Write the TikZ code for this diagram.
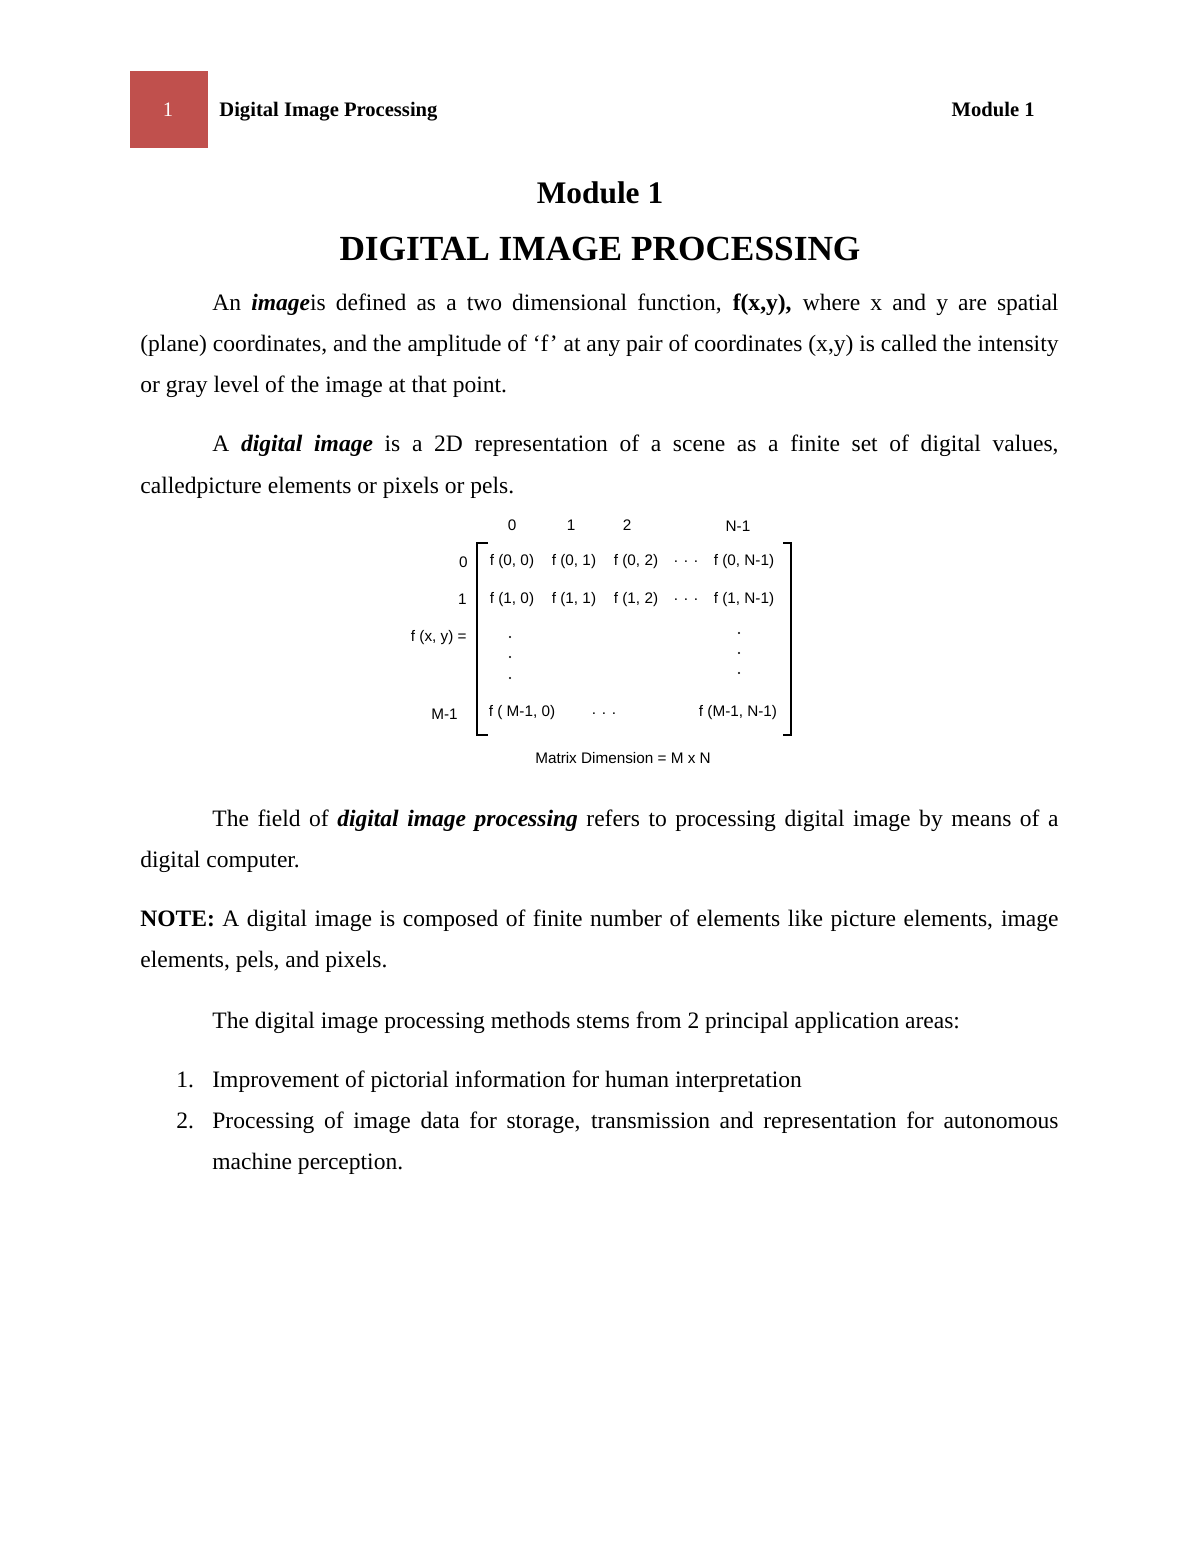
\documentclass[tikz,border=0pt]{standalone}
\usepackage{fontspec}
\setmainfont{Liberation Serif}
\setsansfont{Liberation Sans}
\begin{document}
\begin{tikzpicture}[x=0.51pt,y=-0.51pt,
 body/.style={anchor=base west,inner sep=0pt,font=\fontsize{12}{14}\selectfont},
 mt/.style={inner sep=0pt,font=\sffamily\fontsize{7.8}{9}\selectfont},
 hd/.style={inner sep=0pt,font=\bfseries\fontsize{10.5}{12}\selectfont}]
\useasboundingbox (0,0) rectangle (1200,1553);
\fill[white] (0,0) rectangle (1200,1553);
\definecolor{hred}{HTML}{C0504D}
\fill[hred] (130,71) rectangle (208,148);
\node[inner sep=0pt,text=white,font=\fontsize{10.5}{12}\selectfont] (pg) at (168,110) {1};
\node[hd,anchor=base west] (h1) at (219,117) {Digital Image Processing};
\node[hd,anchor=base east] (h2) at (1035,117) {Module 1};
\node[inner sep=0pt,font=\bfseries\fontsize{16}{18}\selectfont] (t1) at (600,193) {Module 1};
\node[inner sep=0pt,font=\bfseries\fontsize{18}{20}\selectfont] (t2) at (600,249) {DIGITAL IMAGE PROCESSING};
\def\W{\makebox[431.5pt][s]}
\def\WF{\makebox[468.2pt][s]}
\node[body] (p1a) at (212,310) {\W{An \textbf{\textit{image}}is defined as a two dimensional function, \textbf{f(x,y),} where x and y are spatial}};
\node[body] (p1b) at (140,351) {\WF{(plane) coordinates, and the amplitude of ‘f’ at any pair of coordinates (x,y) is called the intensity}};
\node[body] (p1c) at (140,392) {or gray level of the image at that point.};
\node[body] (p2a) at (212,451) {\W{A \textbf{\textit{digital image}} is a 2D representation of a scene as a finite set of digital values,}};
\node[body] (p2b) at (140,493) {calledpicture elements or pixels or pels.};
% matrix
\node[mt] (c0) at (512,525) {0};
\node[mt] (c1) at (571,525) {1};
\node[mt] (c2) at (627,525) {2};
\node[mt] (cn) at (738,526) {N-1};
\node[mt,anchor=east] (r0) at (468,562) {0};
\node[mt,anchor=east] (r1) at (467,599) {1};
\node[mt,anchor=east] (rf) at (467,638) {f (x, y) =};
\node[mt,anchor=east] (rm) at (458,714) {M-1};
\draw[line width=1.3pt] (488,543) -- (477,543) -- (477,735) -- (488,735);
\draw[line width=1.3pt] (783,543) -- (791,543) -- (791,735) -- (783,735);
\foreach \r/\y in {0/562,1/600}{
 \node[mt] at (512,\y) {f (\r, 0)};
 \node[mt] at (574,\y) {f (\r, 1)};
 \node[mt] at (636,\y) {f (\r, 2)};
 \node[mt] at (686,\y) {. . .};
 \node[mt] at (744,\y) {f (\r, N-1)};
}
\foreach \y in {637,657,678}{\fill (510,\y) circle (1.2);}
\foreach \y in {633,653,673}{\fill (739,\y) circle (1.2);}
\node[mt] (m0) at (522,713) {f ( M-1, 0)};
\node[mt] (md) at (604,714) {. . .};
\node[mt] (mn) at (738,713) {f (M-1, N-1)};
\node[mt] (cap) at (623,758) {Matrix Dimension = M x N};
% rest
\node[body] (p3a) at (212,826) {\W{The field of \textbf{\textit{digital image processing}} refers to processing digital image by means of a}};
\node[body] (p3b) at (140,867) {digital computer.};
\node[body] (n1) at (140,926) {\WF{\textbf{NOTE:} A digital image is composed of finite number of elements like picture elements, image}};
\node[body] (n2) at (140,967) {elements, pels, and pixels.};
\node[body] (p4) at (212,1028) {The digital image processing methods stems from 2 principal application areas:};
\node[body] (l1n) at (176,1087) {1.};
\node[body] (l1) at (212,1087) {Improvement of pictorial information for human interpretation};
\node[body] (l2n) at (176,1128) {2.};
\node[body] (l2) at (212,1128) {\W{Processing of image data for storage, transmission and representation for autonomous}};
\node[body] (l2b) at (212,1169) {machine perception.};
\end{tikzpicture}
\end{document}
